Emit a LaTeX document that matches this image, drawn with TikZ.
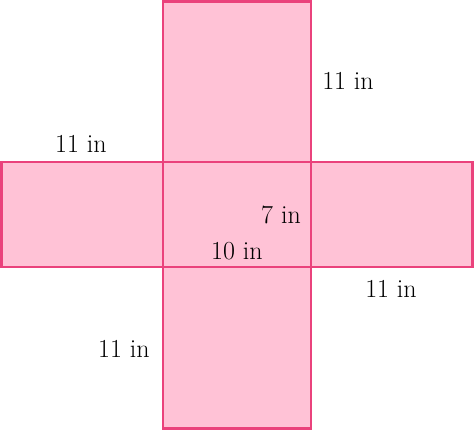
\documentclass[tikz,border=0pt]{standalone}
\begin{document}
\begin{tikzpicture}[x=1pt,y=-1pt,
  face/.style={draw=facestroke,fill=facefill,line width=2.6pt},
  lbl/.style={inner sep=0pt,font=\fontsize{26}{31}\selectfont}]
\definecolor{facefill}{RGB}{255,194,214}
\definecolor{facestroke}{RGB}{234,66,124}
\useasboundingbox (0,0) rectangle (474,430);
\draw[face] (163,1.3) rectangle (311,162);
\draw[face] (1.3,162) rectangle (163,267);
\draw[face] (311,162) rectangle (472.7,267);
\draw[face] (163,267) rectangle (311,428.7);
\draw[face] (163,162) rectangle (311,267);
\node[lbl] (a) at (348,81) {11 in};
\node[lbl] (b) at (81,144) {11 in};
\node[lbl] (c) at (281,215) {7 in};
\node[lbl] (d) at (237,251) {10 in};
\node[lbl] (e) at (391,289) {11 in};
\node[lbl] (f) at (124,349) {11 in};
\end{tikzpicture}
\end{document}
